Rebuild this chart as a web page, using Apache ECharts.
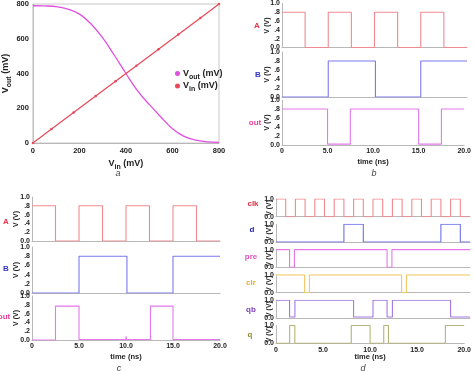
<!DOCTYPE html>
<html><head><meta charset="utf-8">
<script src="https://cdn.jsdelivr.net/npm/echarts@6/dist/echarts.min.js"></script>
<style>html,body{margin:0;padding:0;background:#fff}#c{width:474px;height:371px}</style>
</head><body><div id="c"></div>
<script>
// ---------- Panel a : transfer curve ----------
const vinSweep = [0,50,100,150,200,250,300,350,400,450,500,550,600,650,700,750,800];
const voutValues = [790,789,785,770,742,685,605,505,400,300,222,150,82,38,16,7,4];
const vinPoints = [0,80,175,270,355,445,540,625,720,800];
const aTickLabels = ['0','200','400','600','800'];

// ---------- Panels b,c,d : timing ----------
const timeTicks = ['0','5.0','10.0','15.0','20.0'];
const vTicks = ['0.0','.2','.4','.6','.8','1.0'];
const dTicks = ['0.0','1.0'];

const tA = [0,2.5,5,7.5,10,12.5,15,17.5,20];
const vA = [0.8,0,0.8,0,0.8,0,0.8,0,0];
const tB = [0,5,10.1,15,20];
const vB = [0,0.8,0,0.8,0.8];
const tOutB = [0,5,7.5,15,17.5,20];
const vOutB = [0.8,0.02,0.8,0.02,0.8,0.8];
const tOutC = [0,2.5,5,10,10.08,12.6,15,20];
const vOutC = [0,0.77,0.01,0.08,0.01,0.77,0.01,0.01];

const tClk = [0,1,2,3,4,5,6,7,8,9,10,11,12,13,14,15,16,17,18,19,20];
const vClk = [1,0,1,0,1,0,1,0,1,0,1,0,1,0,1,0,1,0,1,0,0];
const tD = [0,7,9,17,19,20];
const vD = [0,1,0,1,0,0];
const tPre = [0,1.4,1.9,11.45,11.95,20];
const vPre = [1,0,1,0,1,1];
const tClr = [0,2.95,3.45,12.95,13.45,20];
const vClr = [1,0,1,0,1,1];
const tQb = [0,1.4,1.95,8,10,11.45,12,18,20];
const vQb = [1,0.05,1,0.05,1,0.05,1,0.05,0.05];
const tQ = [0,1.45,2,8,10,11.45,11.95,18,20];
const vQ = [0,1,0,1,0,1,0,1,1];

const F = '"Liberation Sans", Arial, sans-serif';
const grids=[], xAxes=[], yAxes=[], series=[], graphics=[];
const axisCol = '#b8b8b8';
const txt = '#222';

// Panel a
grids.push({left:23, top:3, width:196, height:140, show:true, borderColor:'#c8c8c8', borderWidth:1});
const subRich = {
  v:{fontFamily:F, fontWeight:'bold', fontSize:9, color:txt, lineHeight:14},
  s:{fontFamily:F, fontWeight:'bold', fontSize:7, color:txt, lineHeight:7, verticalAlign:'bottom'}
};
xAxes.push({gridIndex:0, type:'value', min:0, max:800, interval:200,
  axisLine:{show:true, lineStyle:{color:axisCol}}, axisTick:{show:false}, splitLine:{show:false},
  axisLabel:{color:txt, fontFamily:F, fontWeight:'bold', fontSize:7.5, margin:4, formatter:v=>aTickLabels[Math.round(v/200)]},
  name:'{v|V}{s|in}{v| (mV)}', nameLocation:'middle', nameGap:14, nameTextStyle:{rich:subRich}});
yAxes.push({gridIndex:0, type:'value', min:0, max:800, interval:200,
  axisLine:{show:true, lineStyle:{color:axisCol, type:'dotted'}}, axisTick:{show:false}, splitLine:{show:false},
  axisLabel:{color:txt, fontFamily:F, fontWeight:'bold', fontSize:7.5, margin:4, formatter:v=>aTickLabels[Math.round(v/200)]},
  name:'{v|V}{s|out}{v| (mV)}', nameLocation:'middle', nameGap:15, nameRotate:90, nameTextStyle:{rich:subRich}});
series.push({name:'Vout', type:'line', xAxisIndex:0, yAxisIndex:0, smooth:0.4, showSymbol:false,
  data:vinSweep.map((x,i)=>[x,voutValues[i]]), lineStyle:{color:'#e050e0', width:1.3}, itemStyle:{color:'#e050e0'}});
series.push({name:'Vin', type:'line', xAxisIndex:0, yAxisIndex:0, showSymbol:true, symbol:'circle', symbolSize:2.5,
  data:vinPoints.map(x=>[x,x]), lineStyle:{color:'#e84858', width:1.2}, itemStyle:{color:'#e84858'}});

function row(c){
  const i = grids.length;
  grids.push({left:c.left, top:c.top, width:c.width, height:c.height});
  xAxes.push({gridIndex:i, type:'value', min:0, max:20, interval:5,
    axisLine:{show:true, lineStyle:{color:axisCol, width:1}}, axisTick:{show:false}, splitLine:{show:false},
    axisLabel:{show:!!c.showX, color:txt, fontFamily:F, fontWeight:'bold', fontSize:7, margin:3, formatter:v=>timeTicks[Math.round(v/5)]},
    name:c.showX?'time (ns)':'', nameLocation:'middle', nameGap:c.xNameGap||13, nameMoveOverlap:false,
    nameTextStyle:{color:txt, fontFamily:F, fontWeight:'bold', fontSize:7.5}});
  yAxes.push({gridIndex:i, type:'value', min:0, max:1, interval:c.step,
    axisLine:{show:true, lineStyle:{color:axisCol}}, axisTick:{show:false}, splitLine:{show:false},
    axisLabel:{color:txt, fontFamily:F, fontWeight:'bold', fontSize:7, margin:2, formatter:v=>c.labels[Math.round(v/c.step)]},
    name:'V (V)', nameLocation:'middle', nameGap:c.nameGap, nameRotate:90, nameMoveOverlap:false,
    nameTextStyle:{color:txt, fontFamily:F, fontWeight:'bold', fontSize:7}});
  series.push({type:'line', step:'end', xAxisIndex:i, yAxisIndex:i, showSymbol:false, silent:true,
    data:c.t.map((t,k)=>[t,c.v[k]]), lineStyle:{color:c.color, width:1.1}, itemStyle:{color:c.color}});
  graphics.push({type:'text', x:c.lx, y:c.ly, style:{text:c.label, fill:c.labelColor,
    font:'bold 8px '+F, align:'center', verticalAlign:'middle'}});
}

// Panel b
row({left:282, top:3, width:185, height:44.5, step:0.2, labels:vTicks, nameGap:11.5, t:tA, v:vA, color:'#f08a90', label:'A', labelColor:'#e8334a', lx:257, ly:26});
row({left:282, top:52, width:185, height:45, step:0.2, labels:vTicks, nameGap:11.5, t:tB, v:vB, color:'#7a78ee', label:'B', labelColor:'#3333cc', lx:258, ly:75});
row({left:282, top:100, width:185, height:45, step:0.2, labels:vTicks, nameGap:11.5, t:tOutB, v:vOutB, color:'#e478ec', label:'out', labelColor:'#e8409a', lx:255, ly:123, showX:true, xNameGap:13});
// Panel c
row({left:32, top:197, width:188, height:44, step:0.2, labels:vTicks, nameGap:12.5, t:tA, v:vA, color:'#f08a90', label:'A', labelColor:'#e8334a', lx:6, ly:222});
row({left:32, top:247, width:188, height:46, step:0.2, labels:vTicks, nameGap:12.5, t:tB, v:vB, color:'#7a78ee', label:'B', labelColor:'#3333cc', lx:6, ly:269});
row({left:32, top:296, width:188, height:44, step:0.2, labels:vTicks, nameGap:12.5, t:tOutC, v:vOutC, color:'#e478ec', label:'out', labelColor:'#e8409a', lx:4, ly:317, showX:true, xNameGap:13});
// Panel d
const dTops = [199,224.3,249.6,274.9,300.2,325.5];
row({left:276, top:dTops[0], width:194, height:17.7, step:1, labels:dTicks, nameGap:3.5, t:tClk, v:vClk, color:'#f08a90', label:'clk', labelColor:'#e03040', lx:253, ly:204});
row({left:276, top:dTops[1], width:194, height:17.7, step:1, labels:dTicks, nameGap:3.5, t:tD, v:vD, color:'#6a70e8', label:'d', labelColor:'#2020b0', lx:252, ly:230});
row({left:276, top:dTops[2], width:194, height:17.7, step:1, labels:dTicks, nameGap:3.5, t:tPre, v:vPre, color:'#e878e8', label:'pre', labelColor:'#e050c0', lx:251, ly:257});
row({left:276, top:dTops[3], width:194, height:17.7, step:1, labels:dTicks, nameGap:3.5, t:tClr, v:vClr, color:'#f2c868', label:'clr', labelColor:'#e0b030', lx:251, ly:283});
row({left:276, top:dTops[4], width:194, height:17.7, step:1, labels:dTicks, nameGap:3.5, t:tQb, v:vQb, color:'#a478e4', label:'qb', labelColor:'#8040c0', lx:251, ly:310});
row({left:276, top:dTops[5], width:194, height:17.7, step:1, labels:dTicks, nameGap:3.5, t:tQ, v:vQ, color:'#b4b478', label:'q', labelColor:'#909030', lx:250, ly:335, showX:true, xNameGap:10});

// captions
[['a',118,173],['b',374,173],['c',119,368],['d',363,368]].forEach(c=>{
  graphics.push({type:'text', x:c[1], y:c[2], style:{text:c[0], fill:'#444', font:'italic 9px '+F, align:'center', verticalAlign:'middle'}});
});

const chart = echarts.init(document.getElementById('c'));
chart.setOption({
  animation:false,
  backgroundColor:'#fff',
  grid:grids, xAxis:xAxes, yAxis:yAxes, series:series, graphic:graphics,
  legend:{data:['Vout','Vin'], left:170, top:64, orient:'vertical', itemGap:1, itemWidth:5, itemHeight:5, icon:'circle',
    formatter:n=> n==='Vout' ? '{v|V}{s|out}{v| (mV)}' : '{v|V}{s|in}{v| (mV)}',
    textStyle:{rich:subRich, padding:[0,0,0,-2]}}
});
</script></body></html>
